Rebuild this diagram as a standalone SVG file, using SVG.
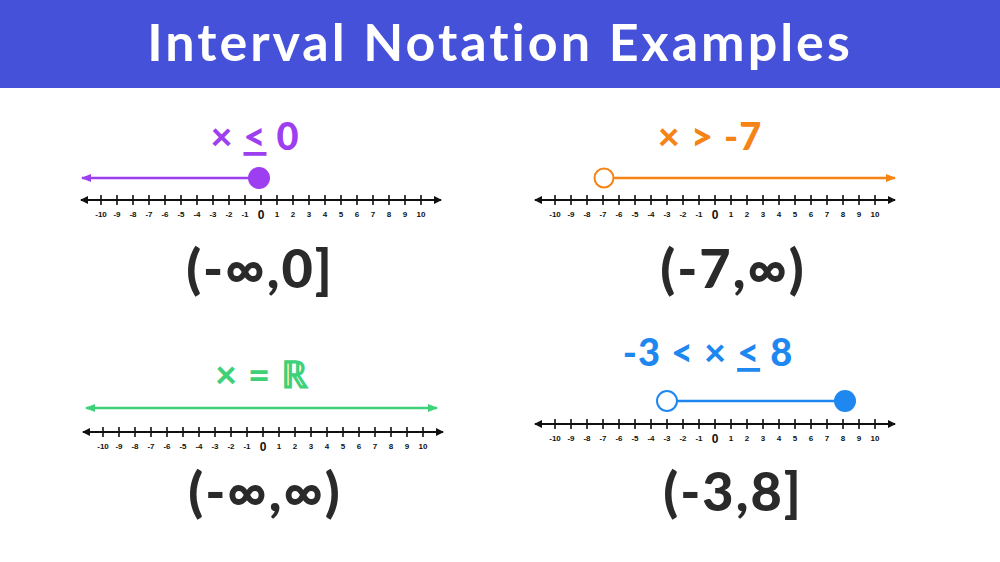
<svg xmlns="http://www.w3.org/2000/svg" xmlns:xlink="http://www.w3.org/1999/xlink" width="1000" height="562" viewBox="0 0 1000 562">
<style>
.ax{stroke:#111;stroke-width:2;fill:none}
.tk{stroke:#111;stroke-width:1.6}
.lb{font-family:"Liberation Sans",Arial,sans-serif;font-size:8px;font-weight:bold;fill:#111;text-anchor:middle}
.z{font-size:12px}
.ans{font-family:"Lato","Liberation Sans",sans-serif;font-weight:900;font-size:54px;fill:#2a2a2a;text-anchor:middle;letter-spacing:2px}
.ineq{font-family:"Lato","Liberation Sans",sans-serif;font-weight:900;font-size:38px;text-anchor:middle;letter-spacing:1px}
</style>
<defs>
<marker id="ah" markerWidth="8" markerHeight="8" refX="7" refY="4" orient="auto-start-reverse" markerUnits="userSpaceOnUse"><path d="M0,0 L8,4 L0,8 Z" fill="#111"/></marker>
<marker id="ap" markerWidth="10" markerHeight="8" refX="9" refY="4" orient="auto-start-reverse" markerUnits="userSpaceOnUse"><path d="M0,0 L10,4 L0,8 Z" fill="context-stroke"/></marker>
<g id="nl">
<line class="ax" x1="-20" y1="0" x2="340" y2="0" marker-start="url(#ah)" marker-end="url(#ah)"/>
<path class="tk" d="M0,-5V5M16,-5V5M32,-5V5M48,-5V5M64,-5V5M80,-5V5M96,-5V5M112,-5V5M128,-5V5M144,-5V5M160,-5V5M176,-5V5M192,-5V5M208,-5V5M224,-5V5M240,-5V5M256,-5V5M272,-5V5M288,-5V5M304,-5V5M320,-5V5"/>
<text class="lb" y="17"><tspan x="0">-10</tspan><tspan x="16">-9</tspan><tspan x="32">-8</tspan><tspan x="48">-7</tspan><tspan x="64">-6</tspan><tspan x="80">-5</tspan><tspan x="96">-4</tspan><tspan x="112">-3</tspan><tspan x="128">-2</tspan><tspan x="144">-1</tspan><tspan x="176">1</tspan><tspan x="192">2</tspan><tspan x="208">3</tspan><tspan x="224">4</tspan><tspan x="240">5</tspan><tspan x="256">6</tspan><tspan x="272">7</tspan><tspan x="288">8</tspan><tspan x="304">9</tspan><tspan x="320">10</tspan></text>
<text class="lb z" x="160" y="19">0</text>
</g>
</defs>
<rect x="0" y="0" width="1000" height="88" fill="#4551d8"/>
<text x="500" y="61" font-family="Lato,'Liberation Sans',sans-serif" font-weight="bold" font-size="52" fill="#fff" text-anchor="middle" letter-spacing="3">Interval Notation Examples</text>

<g id="connectors">
<line x1="258" y1="178" x2="82" y2="178" stroke="#9d3ff0" stroke-width="2.5" marker-end="url(#ap)"/>
<line x1="613" y1="178" x2="895" y2="178" stroke="#f58316" stroke-width="2.5" marker-end="url(#ap)"/>
<line x1="86" y1="408" x2="437" y2="408" stroke="#3fd07a" stroke-width="2.5" marker-start="url(#ap)" marker-end="url(#ap)"/>
<line x1="677" y1="401" x2="845" y2="401" stroke="#1e88f0" stroke-width="2.5"/>
</g>

<g id="q1">
<text class="ineq" x="255" y="150" fill="#9d3ff0">× <tspan text-decoration="underline">&lt;</tspan> 0</text>
<use xlink:href="#nl" x="101" y="200"/>
<circle cx="259" cy="178" r="11" fill="#9d3ff0"/>
<text class="ans" x="260" y="288">(-∞,0]</text>
</g>
<g id="q2">
<text class="ineq" x="710" y="150" fill="#f58316">× &gt; -7</text>
<use xlink:href="#nl" x="555" y="200"/>
<circle cx="604" cy="178" r="9.5" fill="#fff" stroke="#f58316" stroke-width="2"/>
<text class="ans" x="733" y="288">(-7,∞)</text>
</g>
<g id="q3">
<text class="ineq" x="262" y="388" fill="#3fd07a">× = ℝ</text>
<use xlink:href="#nl" x="103" y="432"/>
<text class="ans" x="265" y="511">(-∞,∞)</text>
</g>
<g id="q4">
<text class="ineq" x="708" y="366" fill="#1e88f0">-3 &lt; × <tspan text-decoration="underline">&lt;</tspan> 8</text>
<use xlink:href="#nl" x="555" y="424"/>
<circle cx="667" cy="401" r="10" fill="#fff" stroke="#1e88f0" stroke-width="2"/>
<circle cx="845" cy="401" r="11" fill="#1e88f0"/>
<text class="ans" x="733" y="511">(-3,8]</text>
</g>
</svg>
